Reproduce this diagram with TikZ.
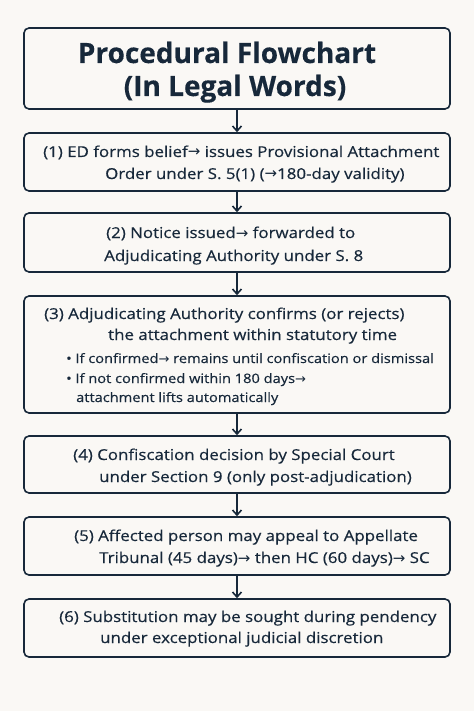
\documentclass[tikz,border=0pt]{standalone}
\usepackage{fontspec}
\setmainfont{Open Sans}[FakeBold=0.4, FakeStretch=1.125]
\newfontfamily\titlefont{Open Sans}[FakeBold=0.3]
\newfontfamily\arrfont{DejaVu Sans}
\usetikzlibrary{arrows.meta}
\definecolor{ink}{HTML}{17283A}
\definecolor{paper}{HTML}{FAF8F5}
\newcommand{\ra}{{\arrfont\char"2192}}
\tikzset{
  box/.style={draw=ink, line width=1.6pt, rounded corners=5pt, inner sep=0pt, minimum width=426pt},
  txt/.style={anchor=base west, inner sep=0pt, text=ink, font=\fontsize{15}{17}\selectfont},
  small/.style={txt, font=\fontsize{13}{16}\selectfont},
  ttl/.style={anchor=base, inner sep=0pt, text=ink, font=\fontsize{28}{32}\selectfont\titlefont\bfseries},
  conn/.style={draw=ink, line width=1.6pt, -{Straight Barb[length=5pt,width=9pt,line width=1.6pt]}}
}
\begin{document}
\begin{tikzpicture}[x=1pt,y=-1pt]
\fill[paper] (0,0) rectangle (474,711);
\useasboundingbox (0,0) rectangle (474,711);
% boxes
\node[box, minimum height=81pt] (title) at (237,68.5) {};
\node[box, minimum height=58pt] (b1) at (237,162) {};
\node[box, minimum height=59pt] (b2) at (237,242.5) {};
\node[box, minimum height=117pt] (b3) at (237,354.5) {};
\node[box, minimum height=57pt] (b4) at (237,464.5) {};
\node[box, minimum height=58pt] (b5) at (237,546) {};
\node[box, minimum height=58pt] (b6) at (237,628) {};
% connectors
\draw[conn] (title.south) -- (b1.north);
\draw[conn] (b1.south) -- (b2.north);
\draw[conn] (b2.south) -- (b3.north);
\draw[conn] (b3.south) -- (b4.north);
\draw[conn] (b4.south) -- (b5.north);
\draw[conn] (b5.south) -- (b6.north);
% title
\node[ttl] (t0a) at (227,63) {Procedural Flowchart};
\node[ttl] (t0b) at (235,96) {(In Legal Words)};
% box 1
\node[txt] (t1a) at (43,157) {(1) ED forms belief\ra\ issues Provisional Attachment};
\node[txt] (t1b) at (105,179) {Order under S. 5(1) (\ra180-day validity)};
% box 2
\node[txt] (t2a) at (106,238) {(2) Notice issued\ra\ forwarded to};
\node[txt] (t2b) at (104,261) {Adjudicating Authority under S. 8};
% box 3
\node[txt] (t3a) at (44,319) {(3) Adjudicating Authority confirms (or rejects)};
\node[txt] (t3b) at (108,340) {the attachment within statutory time};
\node[small] (t3c) at (66,363) {\textbullet\ If confirmed\ra\ remains until confiscation or dismissal};
\node[small] (t3d) at (66,383) {\textbullet\ If not confirmed within 180 days\ra};
\node[small] (t3e) at (76,402) {attachment lifts automatically};
% box 4
\node[txt] (t4a) at (73,460) {(4) Confiscation decision by Special Court};
\node[txt] (t4b) at (99,482) {under Section 9 (only post-adjudication)};
% box 5
\node[txt] (t5a) at (74,541) {(5) Affected person may appeal to Appellate};
\node[txt] (t5b) at (99,563) {Tribunal (45 days)\ra\ then HC (60 days)\ra\ SC};
% box 6
\node[txt] (t6a) at (59,622) {(6) Substitution may be sought during pendency};
\node[txt] (t6b) at (100,643) {under exceptional judicial discretion};
\end{tikzpicture}
\end{document}
